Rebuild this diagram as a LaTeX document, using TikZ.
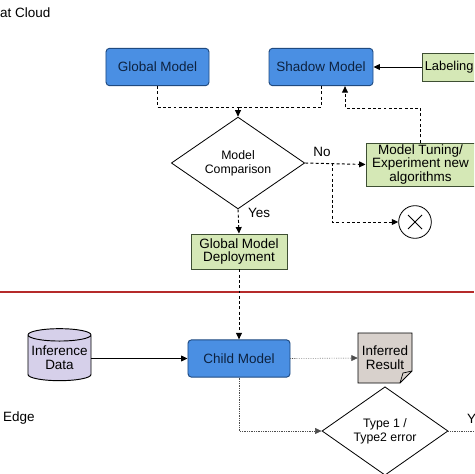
\documentclass[tikz,border=0pt]{standalone}
\usepackage{fontspec}
\setmainfont{Liberation Sans}
\usetikzlibrary{shapes.geometric,arrows.meta}

\definecolor{modelblue}{HTML}{4A8FE3}
\definecolor{modelline}{HTML}{1F4A80}
\definecolor{modeltext}{HTML}{0D2240}
\definecolor{taskgreen}{HTML}{D5E8B6}
\definecolor{taskline}{HTML}{3E4F33}
\definecolor{datalilac}{HTML}{D6D0EA}
\definecolor{notegray}{HTML}{D8D1CC}
\definecolor{splitred}{HTML}{B52A2A}

\begin{document}
\begin{tikzpicture}[x=0.03cm,y=-0.03cm,
  model/.style={draw=modelline,fill=modelblue,text=modeltext,rounded corners=3pt,
    line width=0.8pt,minimum height=1.12cm,font=\fontsize{11.5}{12}\selectfont},
  task/.style={draw=taskline,fill=taskgreen,line width=0.8pt,align=center,
    inner sep=1pt,font=\fontsize{11.5}{11.5}\selectfont},
  decision/.style={diamond,draw,line width=0.7pt,align=center,inner sep=0pt,
    font=\fontsize{10.5}{12}\selectfont},
  flow/.style={line width=0.8pt,dash pattern=on 2.5pt off 2pt},
  tip/.style={-{Triangle[length=5.5pt,width=5pt]}},
  edgeflow/.style={line width=0.5pt,densely dotted,black!70},
  tag/.style={font=\fontsize{11.5}{12}\selectfont,inner sep=0pt}]
  \useasboundingbox (0,0) rectangle (474,474);
  \clip (0,0) rectangle (474,474);

  % cloud side
  \node[tag,anchor=west] (cloud) at (0,13) {at Cloud};
  \node[model,minimum width=3.09cm] (gm) at (157.5,67) {Global Model};
  \node[model,minimum width=3.12cm] (sm) at (321,67) {Shadow Model};
  \node[task,anchor=west,minimum width=2.5cm,minimum height=0.84cm,
    text width=2.4cm,align=left,inner sep=2pt,
    font=\fontsize{11}{11.5}\selectfont] (lab) at (422,67) {Labeling};
  \node[decision,minimum width=4cm,minimum height=2.31cm] (cmp) at (238,163)
    {Model\\Comparison};
  \node[task,minimum width=3.27cm,minimum height=1.29cm] (tune) at (420.5,164.5)
    {Model Tuning/\\Experiment new\\algorithms};
  \node[circle,draw,line width=0.7pt,minimum size=0.98cm] (stop) at (415,222) {};
  \draw[line width=0.7pt] (stop.center) +(-7,-7) -- +(7,7);
  \draw[line width=0.7pt] (stop.center) +(-7,7) -- +(7,-7);
  \node[task,minimum width=2.88cm,minimum height=1.05cm] (dep) at (239,251.5)
    {Global Model\\Deployment};

  \coordinate (merge) at (238,107);
  \coordinate (retune) at (345,108);
  \coordinate (nobranch) at (332,163);
  \draw[flow] (gm.south) |- (merge);
  \draw[flow] (sm.south) |- (merge);
  \draw[flow,tip] (merge) -- (cmp.north);
  \draw[line width=0.8pt,tip] (lab.west) -- (sm.east);
  \draw[flow,tip] (tune.north) |- (retune) -- (retune |- sm.south);
  \draw[flow,tip] (cmp.east) -- (tune.west);
  \draw[flow,tip] (nobranch) |- (stop.west);
  \draw[flow,tip] (cmp.south) -- (dep.north);
  \node[tag] (no) at (322,152) {No};
  \node[tag] (yes) at (259,213) {Yes};

  % split between cloud and edge
  \draw[splitred,line width=1.2pt] (0,292) -- (474,292);

  % edge side
  \node[tag,anchor=west] (edge) at (3,418) {Edge};
  \node[model,minimum width=3.06cm] (child) at (239,358.5) {Child Model};
  \node[cylinder,shape border rotate=90,aspect=0.22,draw,fill=datalilac,
    line width=0.8pt,minimum width=1.89cm,minimum height=1.56cm,align=center,
    inner sep=0pt,font=\fontsize{11.5}{12}\selectfont] (data) at (59.5,358)
    {Inference\\Data};
  \draw[line width=0.8pt,fill=notegray] (358,333) -- (412,333) -- (412,371)
    -- (400,383) -- (358,383) -- cycle;
  \draw[line width=0.6pt] (400,383) -- (403,373) -- (412,371);
  \node[minimum width=1.62cm,minimum height=1.5cm,align=center,inner sep=0pt,
    font=\fontsize{11.5}{12}\selectfont] (result) at (385,358) {Inferred\\Result};
  \node[decision,minimum width=3.78cm,minimum height=2.16cm] (err) at (385,431)
    {Type 1 /\\Type2 error};

  \draw[flow,tip] (dep.south) -- (child.north);
  \draw[line width=0.8pt,tip] (data.east |- child.west) -- (child.west);
  \draw[edgeflow,tip] (child.east) -- (result.west);
  \draw[edgeflow,tip] (child.south) |- (err.west);
  \coordinate (errout) at (480,431);
  \draw[edgeflow] (err.east) -- (errout);
  \node[tag,anchor=west] (erryes) at (467,419) {Yes};
\end{tikzpicture}
\end{document}
